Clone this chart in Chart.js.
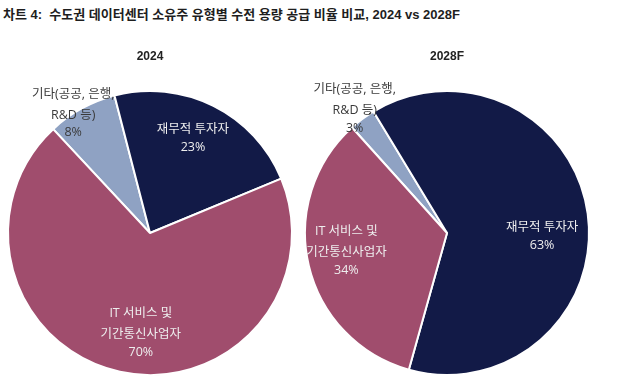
<!DOCTYPE html>
<html><head><meta charset="utf-8">
<script src="https://cdn.jsdelivr.net/npm/chart.js@4"></script>
<style>
html,body{margin:0;padding:0;background:#fff;overflow:hidden;}
#wrap{position:relative;width:638px;height:383px;background:#fff;}
#title{position:absolute;left:3px;top:4px;font:bold 13px "Liberation Sans","Noto Sans CJK KR",sans-serif;color:#1e1e1e;white-space:pre;}
.c{position:absolute;top:30px;height:353px;}
</style></head><body>
<div id="wrap">
<div id="title">차트 4:  수도권 데이터센터 소유주 유형별 수전 용량 공급 비율 비교, 2024 vs 2028F</div>
<div class="c" style="left:0;width:300px"><canvas id="c1"></canvas></div>
<div class="c" style="left:300px;width:338px"><canvas id="c2"></canvas></div>
</div>
<script>
// ---- data ----
const categories = ['기타(공공, 은행, R&D 등)', '재무적 투자자', 'IT 서비스 및 기간통신사업자'];
const labelLines = [['기타(공공, 은행,', 'R&D 등)'], ['재무적 투자자'], ['IT 서비스 및', '기간통신사업자']];
const years = ['2024', '2028F'];
const values2024 = [8, 23, 70];
const values2028 = [3, 63, 34];

// ---- styles ----
const sliceColors = ['#8fa2c3', '#121a47', '#a04d6d'];
const textColors = ['#3a3a3a', '#eeeeee', '#eeeeee'];
const labelFont = '12.5px "Open Sans","Noto Sans CJK KR",sans-serif';

const sliceLabels = {
  id: 'sliceLabels',
  afterDatasetsDraw(chart, args, opts) {
    const ctx = chart.ctx;
    const meta = chart.getDatasetMeta(0);
    const vals = chart.data.datasets[0].data;
    ctx.save();
    ctx.font = labelFont;
    ctx.textAlign = 'center';
    ctx.textBaseline = 'middle';
    meta.data.forEach((arc, i) => {
      const p = arc.getProps(['x', 'y', 'startAngle', 'endAngle', 'outerRadius'], true);
      const pl = opts.place[i];
      const mid = (p.startAngle + p.endAngle) / 2 + pl.dA * Math.PI / 180;
      const r = p.outerRadius * pl.r;
      const cx = p.x + Math.cos(mid) * r;
      const cy = p.y + Math.sin(mid) * r;
      const lines = labelLines[i].concat([vals[i] + '%']);
      const gaps = [];
      for (let k = 0; k < lines.length - 1; k++) gaps.push(k === lines.length - 2 ? 17.5 : 21);
      const total = gaps.reduce((a, b) => a + b, 0);
      let y = cy - total / 2;
      ctx.fillStyle = textColors[i];
      lines.forEach((ln, k) => {
        ctx.fillText(ln, cx, y);
        if (k < gaps.length) y += gaps[k];
      });
    });
    ctx.restore();
  }
};

function makePie(id, year, values, rotation, pad, place) {
  return new Chart(document.getElementById(id), {
    type: 'pie',
    data: {
      labels: categories,
      datasets: [{
        data: values,
        backgroundColor: sliceColors,
        borderColor: '#ffffff',
        borderWidth: 2
      }]
    },
    options: {
      responsive: true,
      maintainAspectRatio: false,
      animation: false,
      rotation: rotation,
      radius: 142,
      layout: { padding: pad },
      plugins: {
        legend: { display: false },
        tooltip: { enabled: false },
        title: {
          display: true,
          text: year,
          color: '#222',
          font: { family: '"Liberation Sans",sans-serif', size: 12, weight: 'bold' },
          padding: { top: 9.5, bottom: 24.1 }
        },
        sliceLabels: { place: place }
      }
    },
    plugins: [sliceLabels]
  });
}

makePie('c1', years[0], values2024, -43,
  { top: 10, left: 5, right: 5, bottom: 5 },
  [{ r: 1.0, dA: -4 }, { r: 0.73, dA: -2 }, { r: 0.707, dA: -7 }]);
makePie('c2', years[1], values2028, -42,
  { top: 10, left: 2, right: 46, bottom: 5 },
  [{ r: 1.09, dA: 0 }, { r: 0.67, dA: 10 }, { r: 0.72, dA: 3 }]);
</script>
</body></html>
